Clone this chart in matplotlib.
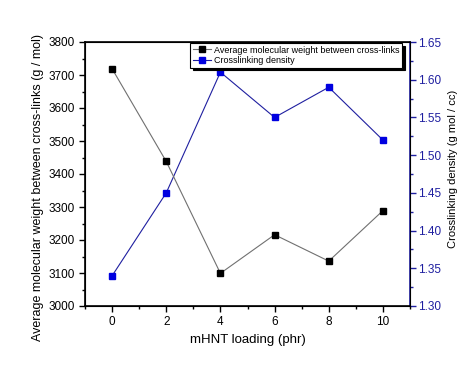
import matplotlib
matplotlib.use('Agg')

import matplotlib.pyplot as plt
from matplotlib.ticker import MultipleLocator

plt.rcParams['font.family'] = ['Liberation Sans', 'DejaVu Sans']

# Data
loading = [0, 2, 4, 6, 8, 10]
mol_weight = [3719, 3438, 3099, 3216, 3136, 3289]
crosslink_density = [1.34, 1.45, 1.61, 1.55, 1.59, 1.52]

blue = '#1f1fa0'

fig = plt.figure(figsize=(4.74, 3.66), dpi=100)
ax = fig.add_axes([85 / 474, 60 / 366, 325 / 474, 264 / 366])
ax2 = ax.twinx()

l1, = ax.plot(loading, mol_weight, color='#707070', lw=0.8, marker='s', ms=4,
              mfc='black', mec='black', label='Average molecular weight between cross-links')
l2, = ax2.plot(loading, crosslink_density, color=blue, lw=0.8, marker='s', ms=4,
               mfc='#0000e0', mec='#0000e0', label='Crosslinking density')

ax.set_xlim(-1, 11)
ax.set_ylim(3000, 3800)
ax2.set_ylim(1.30, 1.65)

ax.xaxis.set_major_locator(MultipleLocator(2))
ax.xaxis.set_minor_locator(MultipleLocator(1))
ax.yaxis.set_major_locator(MultipleLocator(100))
ax.yaxis.set_minor_locator(MultipleLocator(50))
ax2.yaxis.set_major_locator(MultipleLocator(0.05))
ax2.yaxis.set_minor_locator(MultipleLocator(0.025))
ax2.yaxis.set_major_formatter(plt.FormatStrFormatter('%.2f'))

ax.tick_params(which='both', direction='out', labelsize=8.5, width=1)
ax.tick_params(which='major', length=4)
ax.tick_params(which='minor', length=2.5)
ax2.tick_params(which='both', direction='out', labelsize=8.5, colors=blue, width=1)
ax2.tick_params(which='major', length=4, pad=1.5)
ax2.tick_params(which='minor', length=2.5)

for s in ['left', 'bottom', 'top']:
    ax2.spines[s].set_linewidth(1.2)
ax2.spines['right'].set_color(blue)
ax2.spines['right'].set_linewidth(1.2)

ax.set_xlabel('mHNT loading (phr)', fontsize=9.5)
ax.set_ylabel('Average molecular weight between cross-links (g / mol)', fontsize=9)
ax.yaxis.set_label_coords(-0.125, 0.45)
ax2.set_ylabel('Crosslinking density (g mol / cc)', fontsize=8)
ax2.yaxis.set_label_coords(1.118, 0.52)

leg = ax.legend(handles=[l1, l2], loc='upper right', bbox_to_anchor=(0.975, 0.997),
                fontsize=6.5, frameon=True, fancybox=False, shadow={'color': 'black', 'alpha': 1},
                borderpad=0.3, labelspacing=0.15, handlelength=2, handletextpad=0.3,
                borderaxespad=0)
leg.get_frame().set_edgecolor('black')
leg.get_frame().set_linewidth(0.8)
leg.set_zorder(10)
ax.set_zorder(ax2.get_zorder() + 1)
ax.patch.set_visible(False)

fig.savefig('out.png', dpi=100)
